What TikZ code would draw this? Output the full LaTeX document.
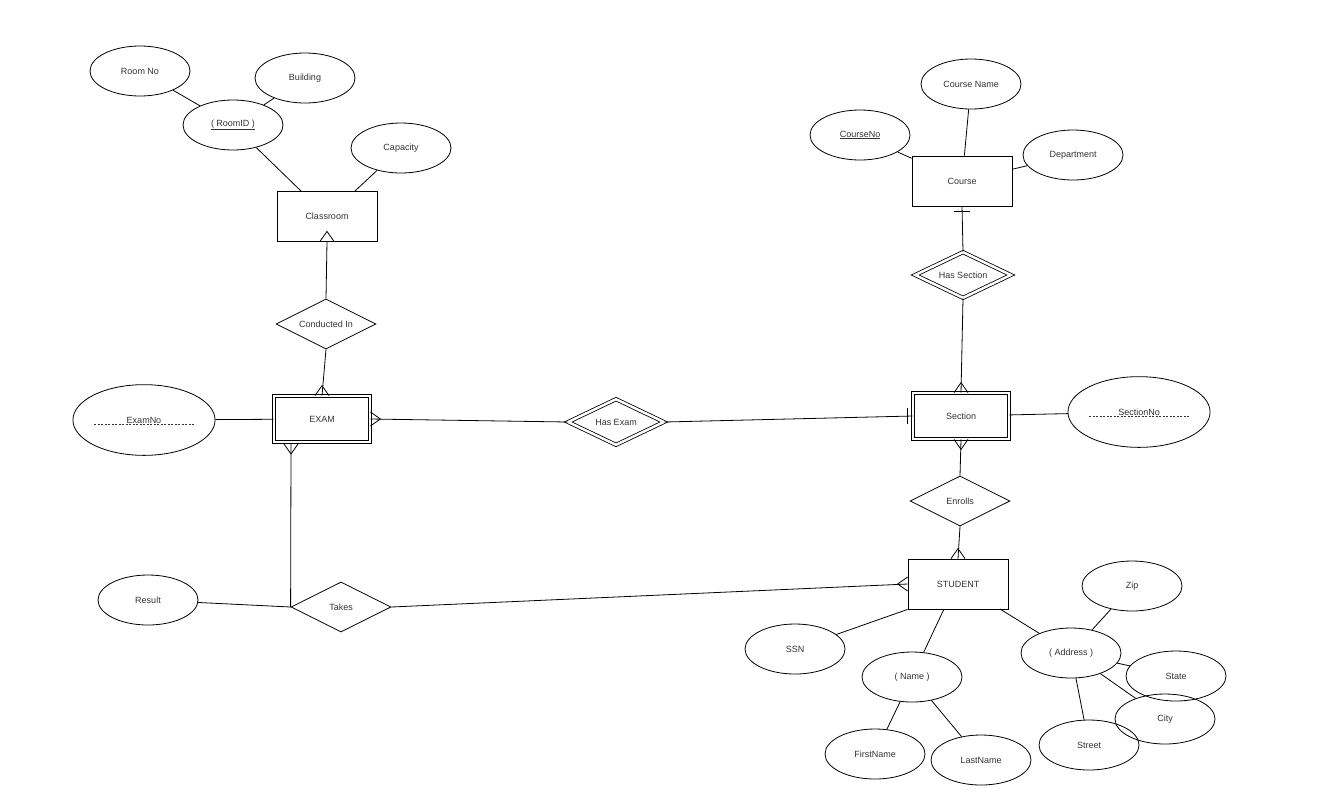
\documentclass[tikz,border=0pt]{standalone}
\usepackage{fontspec}
\setmainfont{Liberation Sans}
\usetikzlibrary{shapes.geometric,calc}
\newcommand\crowfoot[2]{\draw ($(#1)+(#2+90:7)$) -- ($(#1)+(#2:10)$) -- ($(#1)+(#2-90:7)$);}
\newcommand\onebar[2]{\draw ($(#1)+(#2:5)+(#2+90:8)$) -- ($(#1)+(#2:5)+(#2-90:8)$);}
\newcommand\dul[1]{\tikz[baseline=(t.base)]{\node[inner sep=0pt,outer sep=0pt,anchor=base](t){#1}; \draw[dashed,line width=0.5pt,dash pattern=on 2pt off 1.5pt] ([yshift=-1.5pt]t.base west) -- ([yshift=-1.5pt]t.base east);}}
\begin{document}
\begin{tikzpicture}[x=1pt,y=-1pt,line width=0.8pt,
  every node/.style={font=\fontsize{9}{11}\selectfont,text=black!80},
  attr/.style={draw,ellipse,minimum width=100pt,minimum height=50pt,inner sep=0pt},
  ent/.style={draw,rectangle,minimum width=100pt,minimum height=50pt},
  went/.style={draw,rectangle,minimum width=96pt,minimum height=46pt,double,double distance=2.5pt},
  rel/.style={draw,diamond,minimum width=100pt,minimum height=50pt,inner sep=0pt,aspect=2},
  wrel/.style={draw,diamond,minimum width=96pt,minimum height=46pt,inner sep=0pt,aspect=2,double,double distance=2.5pt}]
\useasboundingbox (0,0) rectangle (1321,804);
% entities
\node[ent] (classroom) at (327,216) {Classroom};
\node[went] (exam) at (322,419) {EXAM};
\node[went] (section) at (961,416) {Section};
\node[ent] (course) at (962,181) {Course};
\node[ent] (student) at (958,584) {STUDENT};
% relationships
\node[rel] (conducted) at (326,324) {Conducted In};
\node[wrel] (hasexam) at (616,422) {Has Exam};
\node[wrel] (hassection) at (963,275) {Has Section};
\node[rel] (enrolls) at (960,501) {Enrolls};
\node[rel] (takes) at (341,607) {Takes};
% attributes
\node[attr] (roomno) at (140,71) {Room No};
\node[attr] (building) at (305,78) {Building};
\node[attr] (roomid) at (233,125) {\underline{( RoomID )}};
\node[attr] (capacity) at (401,148) {Capacity};
\node[attr] (examno) at (144,420) {\dul{ExamNo}};
\node[attr] (sectionno) at (1139,412) {\dul{SectionNo}};
\node[attr] (courseno) at (860,135) {\underline{CourseNo}};
\node[attr] (coursename) at (971,84) {Course Name};
\node[attr] (department) at (1073,155) {Department};
\node[attr] (result) at (148,600) {Result};
\node[attr] (ssn) at (795,649) {SSN};
\node[attr] (name) at (912,677) {( Name )};
\node[attr] (firstname) at (875,754) {FirstName};
\node[attr] (lastname) at (981,760) {LastName};
\node[attr] (address) at (1071,653) {( Address )};
\node[attr] (zip) at (1132,586) {Zip};
\node[attr] (state) at (1176,676) {State};
\node[attr] (city) at (1165,719) {City};
\node[attr] (street) at (1089,745) {Street};
% attribute links
\coordinate (c1) at (301,191);
\coordinate (c2) at (355,191);
\coordinate (s1) at (944,609);
\coordinate (s2) at (1000,609);
\draw (roomno) -- (roomid);
\draw (building) -- (roomid);
\draw (roomid) -- (c1);
\draw (capacity) -- (c2);
\draw (examno) -- (exam);
\draw (section) -- (sectionno);
\draw (courseno) -- (course);
\draw (coursename) -- (course);
\draw (department) -- (course);
\draw (result) -- (takes.west);
\draw (ssn) -- (student.south west);
\draw (name) -- (s1);
\draw (name) -- (firstname);
\draw (name) -- (lastname);
\draw (address) -- (s2);
\draw (address) -- (zip);
\draw (address) -- (state);
\draw (address) -- (city);
\draw (address) -- (street);
% relationship links
\coordinate (cb) at (classroom.south);
\coordinate (et) at (exam.north);
\coordinate (er) at (exam.east);
\coordinate (eb) at (291,444);
\coordinate (sl) at (section.west);
\coordinate (st) at (section.north);
\coordinate (sb) at (section.south);
\coordinate (stt) at (student.north);
\coordinate (stl) at (student.west);
\coordinate (cob) at (course.south);
\draw (cb) -- (conducted.north);
\draw (conducted.south) -- (et);
\draw (er) -- (hasexam.west);
\draw (hasexam.east) -- (sl);
\draw (cob) -- (hassection.north);
\draw (hassection.south) -- (st);
\draw (sb) -- (enrolls.north);
\draw (enrolls.south) -- (stt);
\draw (eb) -- (takes.west);
\draw (takes.east) -- (stl);
% crow's feet and bars
\crowfoot{cb}{-90}
\crowfoot{et}{-90}
\crowfoot{er}{0}
\crowfoot{eb}{90}
\crowfoot{st}{-90}
\crowfoot{sb}{90}
\crowfoot{stt}{-90}
\crowfoot{stl}{180}
\onebar{cob}{90}
\onebar{sl}{180}
\end{tikzpicture}
\end{document}
